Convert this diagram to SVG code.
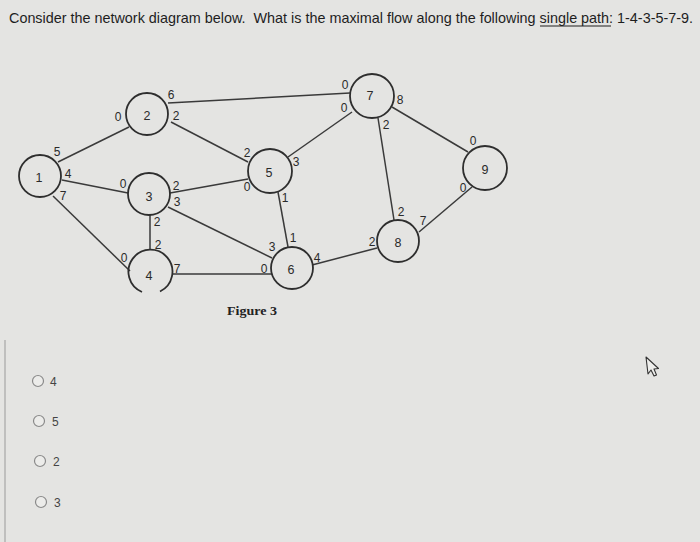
<svg xmlns="http://www.w3.org/2000/svg" width="700" height="542" viewBox="0 0 700 542">
<style>
.bg{fill:#e4e4e2}
.nd{fill:none;stroke:#2e2e2e;stroke-width:1.8}
.ed{stroke:#3a3a3a;stroke-width:1.5;fill:none}
.lb{font-family:"Liberation Sans",Arial,sans-serif;font-size:12px;fill:#2a2a2a;text-anchor:middle}
.nl{font-family:"Liberation Sans",Arial,sans-serif;font-size:12.5px;fill:#2a2a2a;text-anchor:middle}
.hd{font-family:"Liberation Sans",Arial,sans-serif;font-size:14.5px;fill:#1e1e1e}
.rb{fill:#ececea;stroke:#8a8a8a;stroke-width:1.2}
.rt{font-family:"Liberation Sans",Arial,sans-serif;font-size:12px;fill:#444}
</style>
<rect class="bg" x="0" y="0" width="700" height="542"/>
<line x1="5" y1="340" x2="5" y2="542" stroke="#9a9a9a" stroke-width="1"/>

<g id="header">
<text class="hd" x="9" y="23" textLength="684" lengthAdjust="spacingAndGlyphs" xml:space="preserve">Consider the network diagram below.  What is the maximal flow along the following single path: 1-4-3-5-7-9.</text>
<line x1="540" y1="26" x2="611" y2="26" stroke="#1e1e1e" stroke-width="1"/>
</g>

<g id="connectors">
<line class="ed" x1="58" y1="162" x2="129" y2="127"/>
<line class="ed" x1="62" y1="180" x2="128" y2="193"/>
<line class="ed" x1="53" y1="196" x2="130" y2="271"/>
<line class="ed" x1="168" y1="103" x2="350" y2="93"/>
<line class="ed" x1="171" y1="122" x2="248" y2="162"/>
<line class="ed" x1="170" y1="193" x2="248" y2="179"/>
<line class="ed" x1="168" y1="207" x2="272" y2="258"/>
<line class="ed" x1="150" y1="215" x2="150" y2="250"/>
<line class="ed" x1="172" y1="274" x2="272" y2="274"/>
<line class="ed" x1="288" y1="157" x2="352" y2="112"/>
<line class="ed" x1="278" y1="192" x2="288" y2="247"/>
<line class="ed" x1="312" y1="265" x2="377" y2="248"/>
<line class="ed" x1="378" y1="118" x2="394" y2="220"/>
<line class="ed" x1="392" y1="107" x2="468" y2="152"/>
<line class="ed" x1="419" y1="232" x2="472" y2="187"/>
</g>

<g id="node1">
<circle class="nd" cx="40" cy="176" r="21"/>
<text class="nl" x="39" y="182">1</text>
<text class="lb" x="57" y="156">5</text>
<text class="lb" x="68" y="178">4</text>
<text class="lb" x="63" y="200">7</text>
</g>
<g id="node2">
<circle class="nd" cx="147" cy="114" r="21"/>
<text class="nl" x="147" y="120">2</text>
<text class="lb" x="118" y="121">0</text>
<text class="lb" x="171" y="99">6</text>
<text class="lb" x="176" y="120">2</text>
</g>
<g id="node3">
<circle class="nd" cx="149" cy="194" r="21"/>
<text class="nl" x="149" y="201">3</text>
<text class="lb" x="123" y="188">0</text>
<text class="lb" x="176" y="190">2</text>
<text class="lb" x="177" y="206">3</text>
<text class="lb" x="157" y="226">2</text>
</g>
<g id="node4">
<path class="nd" d="M142,292 A22,22 0 1 1 160,291.5"/>
<text class="nl" x="149" y="280">4</text>
<text class="lb" x="158" y="249">2</text>
<text class="lb" x="124" y="262">0</text>
<text class="lb" x="177" y="273">7</text>
</g>
<g id="node5">
<circle class="nd" cx="270" cy="171" r="22"/>
<text class="nl" x="269" y="177">5</text>
<text class="lb" x="247" y="157">2</text>
<text class="lb" x="296" y="166">3</text>
<text class="lb" x="247" y="191">0</text>
<text class="lb" x="285" y="202">1</text>
</g>
<g id="node6">
<circle class="nd" cx="292" cy="268" r="21"/>
<text class="nl" x="291" y="274">6</text>
<text class="lb" x="293" y="242">1</text>
<text class="lb" x="272" y="251">3</text>
<text class="lb" x="264" y="273">0</text>
<text class="lb" x="317" y="262">4</text>
</g>
<g id="node7">
<circle class="nd" cx="372" cy="96" r="22"/>
<text class="nl" x="370" y="100">7</text>
<text class="lb" x="345" y="89">0</text>
<text class="lb" x="344" y="112">0</text>
<text class="lb" x="400" y="104">8</text>
<text class="lb" x="386" y="129">2</text>
</g>
<g id="node8">
<circle class="nd" cx="398" cy="241" r="21"/>
<text class="nl" x="398" y="247">8</text>
<text class="lb" x="372" y="246">2</text>
<text class="lb" x="401" y="216">2</text>
<text class="lb" x="423" y="225">7</text>
</g>
<g id="node9">
<circle class="nd" cx="485" cy="168" r="22"/>
<text class="nl" x="485" y="174">9</text>
<text class="lb" x="473" y="145">0</text>
<text class="lb" x="463" y="192">0</text>
</g>

<text x="227" y="315" font-family="'Liberation Serif','Times New Roman',serif" font-size="13" font-weight="bold" fill="#222" textLength="50" lengthAdjust="spacingAndGlyphs">Figure 3</text>

<g id="options">
<circle class="rb" cx="38" cy="381" r="5.5"/>
<text class="rt" x="50" y="386">4</text>
<circle class="rb" cx="39" cy="421" r="5.5"/>
<text class="rt" x="52" y="426">5</text>
<circle class="rb" cx="40" cy="461" r="5.5"/>
<text class="rt" x="53" y="466">2</text>
<circle class="rb" cx="41" cy="502" r="5.5"/>
<text class="rt" x="54" y="507">3</text>
</g>

<path d="M646,357 L648,374 L651,370 L654,376 L656.5,375 L654,369 L658.5,368.5 Z" fill="#eeeeec" stroke="#333" stroke-width="1.1" stroke-linejoin="round"/>
</svg>
